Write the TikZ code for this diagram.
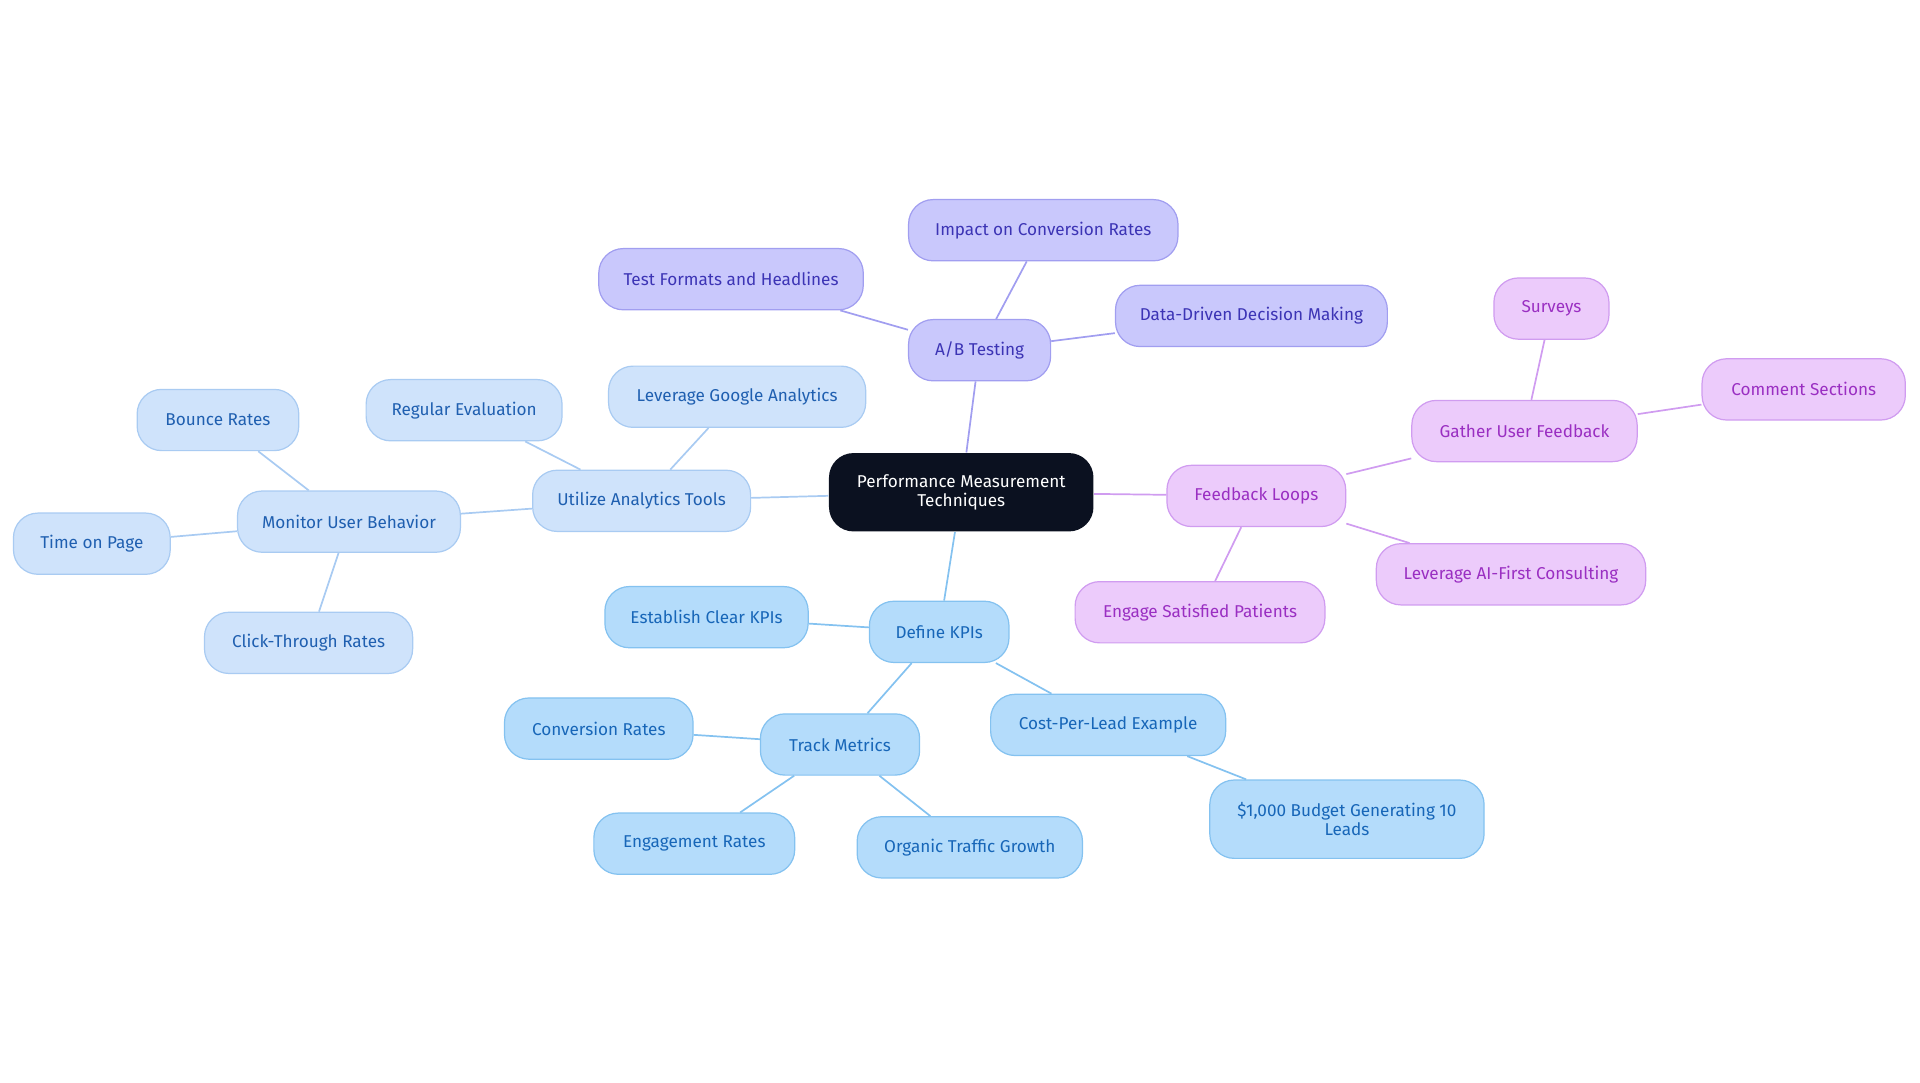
\documentclass[tikz,border=0pt]{standalone}
\usepackage{fontspec}
\setmainfont{Fira Sans}
\definecolor{bF}{HTML}{CFE3FB}\definecolor{bD}{HTML}{A9CBF2}\definecolor{bT}{HTML}{1F5FB0}
\definecolor{kF}{HTML}{B4DCFB}\definecolor{kD}{HTML}{84C2F0}\definecolor{kT}{HTML}{1766B8}
\definecolor{aF}{HTML}{C9C8FC}\definecolor{aD}{HTML}{A19EF0}\definecolor{aT}{HTML}{3C34B5}
\definecolor{fF}{HTML}{ECCBFB}\definecolor{fD}{HTML}{D09CF0}\definecolor{fT}{HTML}{9A2FC2}
\definecolor{cF}{HTML}{0B1120}
\tikzset{
 base/.style={rounded corners=10pt,minimum height=25pt,font=\fontsize{7}{7.5}\selectfont,align=center,line width=0.5pt},
 bn/.style={base,fill=bF,draw=bD,text=bT},
 kn/.style={base,fill=kF,draw=kD,text=kT},
 an/.style={base,fill=aF,draw=aD,text=aT},
 fn/.style={base,fill=fF,draw=fD,text=fT},
 be/.style={draw=bD,line width=0.7pt},
 ke/.style={draw=kD,line width=0.7pt},
 ae/.style={draw=aD,line width=0.7pt},
 fe/.style={draw=fD,line width=0.7pt},
}
\begin{document}
\begin{tikzpicture}[x=0.5pt,y=-0.5pt]
\useasboundingbox (0,0) rectangle (1568,884);
\node[base,fill=cF,text=white,minimum width=108pt,minimum height=32pt] (c) at (785,402) {Performance Measurement\\Techniques};
\node[bn,minimum width=89pt] (u) at (524,409) {Utilize Analytics Tools};
\node[bn,minimum width=105pt] (lg) at (602,324) {Leverage Google Analytics};
\node[bn,minimum width=80pt] (re) at (379,335) {Regular Evaluation};
\node[bn,minimum width=91pt] (mu) at (285,426) {Monitor User Behavior};
\node[bn,minimum width=66pt] (br) at (178,343) {Bounce Rates};
\node[bn,minimum width=64pt] (tp) at (75,444) {Time on Page};
\node[bn,minimum width=85pt] (ct) at (252,525) {Click-Through Rates};
\node[an,minimum width=58pt] (ab) at (800,286) {A/B Testing};
\node[an,minimum width=110pt] (ic) at (852,188) {Impact on Conversion Rates};
\node[an,minimum width=108pt] (tf) at (597,228) {Test Formats and Headlines};
\node[an,minimum width=111pt] (dd) at (1022,258) {Data-Driven Decision Making};
\node[fn,minimum width=73pt] (fl) at (1026,405) {Feedback Loops};
\node[fn,minimum width=92pt] (gu) at (1245,352) {Gather User Feedback};
\node[fn,minimum width=47pt] (sv) at (1267,252) {Surveys};
\node[fn,minimum width=83pt] (cs) at (1473,318) {Comment Sections};
\node[fn,minimum width=110pt] (la) at (1234,469) {Leverage AI-First Consulting};
\node[fn,minimum width=102pt] (es) at (980,500) {Engage Satisfied Patients};
\node[kn,minimum width=57pt] (dk) at (767,516) {Define KPIs};
\node[kn,minimum width=83pt] (ek) at (577,504) {Establish Clear KPIs};
\node[kn,minimum width=65pt] (tm) at (686,608) {Track Metrics};
\node[kn,minimum width=77pt] (cr) at (489,595) {Conversion Rates};
\node[kn,minimum width=82pt] (er) at (567,689) {Engagement Rates};
\node[kn,minimum width=92pt] (og) at (792,692) {Organic Traffic Growth};
\node[kn,minimum width=96pt] (cp) at (905,592) {Cost-Per-Lead Example};
\node[kn,minimum width=112pt,minimum height=32pt] (bg) at (1100,669) {\$1,000 Budget Generating 10\\Leads};
\draw[be] (c)--(u) (u)--(lg) (u)--(re) (u)--(mu) (mu)--(br) (mu)--(tp) (mu)--(ct);
\draw[ae] (c)--(ab) (ab)--(ic) (ab)--(tf) (ab)--(dd);
\draw[fe] (c)--(fl) (fl)--(gu) (gu)--(sv) (gu)--(cs) (fl)--(la) (fl)--(es);
\draw[ke] (c)--(dk) (dk)--(ek) (dk)--(tm) (tm)--(cr) (tm)--(er) (tm)--(og) (dk)--(cp) (cp)--(bg);
\end{tikzpicture}
\end{document}
